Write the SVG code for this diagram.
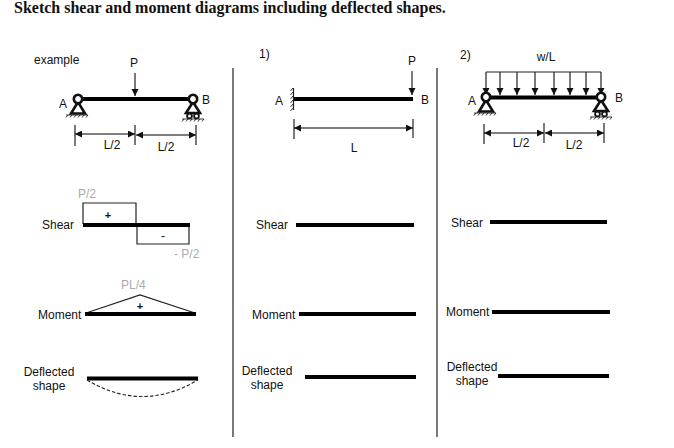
<svg xmlns="http://www.w3.org/2000/svg" width="674" height="448" viewBox="0 0 674 448">
<style>
text{font-family:"Liberation Sans",Arial,sans-serif;font-size:12px;fill:#111}
.c{text-anchor:middle}
.g{fill:#aaa}
.b{stroke:#000;stroke-width:4;fill:none}
.t{stroke:#222;stroke-width:1.2;fill:none}
.s{stroke:#111;stroke-width:2.600;fill:#fff}
.d{stroke:#555;stroke-width:1.300;fill:none}
.h{stroke:#222;stroke-width:.9;fill:none}
.v{stroke:#222;stroke-width:1.2;fill:none;marker-end:url(#ah)}
</style>
<defs>
<marker id="ah" markerUnits="userSpaceOnUse" markerWidth="8" markerHeight="8" refX="7" refY="3.500" orient="auto"><path d="M0 0L7 3.500L0 7z" fill="#111"/></marker>
<marker id="as" markerUnits="userSpaceOnUse" markerWidth="8" markerHeight="8" refX="0" refY="3.500" orient="auto"><path d="M7 0L0 3.500L7 7z" fill="#111"/></marker>
<g id="pin"><path class="s" d="M0 3L-7 14.500H7Z"/><circle class="s" r="4.200"/><path class="h" d="M-12 16H10M-12 18.500l2-2.500M-8 18.500l2-2.500M-4 18.500l2-2.500M0 18.500l2-2.500M4 18.500l2-2.500M8 18.500l2-2.500"/></g>
<g id="roller"><path class="s" d="M0 3L-7 14H7Z"/><circle class="s" r="4.200"/><circle cx="-3.500" cy="17" r="2.400" fill="#fff" stroke="#111" stroke-width="1.800"/><circle cx="3.500" cy="17" r="2.400" fill="#fff" stroke="#111" stroke-width="1.800"/><path class="h" d="M-11 20H11M-11 22.500l2-2.500M-7 22.500l2-2.500M-3 22.500l2-2.500M1 22.500l2-2.500M5 22.500l2-2.500M9 22.500l2-2.500"/></g>
</defs>
<text x="14" y="13" style="font-family:'Liberation Serif',serif;font-size:16px;font-weight:bold">Sketch shear and moment diagrams including deflected shapes.</text>
<g id="connectors">
<path class="t" d="M233 68V437M437 68V437"/>
<path class="v" d="M135 73V96"/>
<path class="d" d="M75 134H135" marker-start="url(#as)" marker-end="url(#ah)"/>
<path class="d" d="M136 135H196" marker-start="url(#as)" marker-end="url(#ah)"/>
<path class="t" d="M75 125V146M135 125V145M196 125V145"/>
<path class="v" d="M412 71V95"/>
<path class="d" d="M294 128H413" marker-start="url(#as)" marker-end="url(#ah)"/>
<path class="t" d="M294 119V139M413 119V138"/>
<path class="t" d="M486 72H601"/>
<path class="v" d="M486 72V95"/><path class="v" d="M500 72V95"/><path class="v" d="M517 72V95"/><path class="v" d="M535 72V95"/><path class="v" d="M554 72V95"/><path class="v" d="M570 72V95"/><path class="v" d="M586 72V95"/><path class="v" d="M601 72V95"/>
<path class="d" d="M484 133H544" marker-start="url(#as)" marker-end="url(#ah)"/>
<path class="d" d="M545 133H604" marker-start="url(#as)" marker-end="url(#ah)"/>
<path class="t" d="M484 124V144M544 123V143M604 123V143"/>
</g>
<g id="example-beam">
<text x="34" y="64">example</text><text class="c" x="134" y="67">P</text><text x="59" y="108">A</text><text x="202" y="104">B</text>
<path class="b" d="M78 99H193"/>
<use href="#pin" x="78" y="99"/><use href="#roller" x="193" y="99"/>
<text class="c" x="112" y="149">L/2</text><text class="c" x="166" y="151">L/2</text>
</g>
<g id="example-shear">
<text class="g" x="78" y="198">P/2</text><text x="42" y="229">Shear</text>
<path class="t" d="M83 224V203H136V224M137 226V244H189V226"/>
<path class="b" d="M83 225H190"/>
<text class="c" x="108" y="219" style="font-weight:bold;font-size:11px">+</text><text class="c" x="163" y="240">-</text>
<text class="g" x="174" y="258">- P/2</text>
</g>
<g id="example-moment">
<text class="g" x="121" y="289">PL/4</text><text x="38" y="319">Moment</text>
<path class="t" d="M86 313L140 295L195 313"/><path class="b" d="M85 314H196"/>
<text class="c" x="140" y="310" style="font-weight:bold;font-size:11px">+</text>
</g>
<g id="example-deflected">
<text class="c" x="49" y="376">Deflected</text><text class="c" x="49" y="390">shape</text>
<path class="b" d="M87 378.500H198"/>
<path d="M87 380Q142 413 198 380" fill="none" stroke="#222" stroke-width="1.100" stroke-dasharray="3.500 2"/>
</g>
<g id="beam-1">
<text x="259" y="58">1)</text><text class="c" x="412" y="65">P</text><text x="275" y="105">A</text><text x="421" y="104">B</text>
<path class="h" d="M293 88l-2.500 3M293 92l-2.500 3M293 96l-2.500 3M293 100l-2.500 3M293 104l-2.500 3M293 108l-2.500 3"/><path class="t" d="M293.500 88V110"/>
<path class="b" d="M294 99H413"/>
<text class="c" x="354" y="152">L</text>
</g>
<g id="shear-1"><text x="256" y="229">Shear</text><path class="b" d="M296 225H414"/></g>
<g id="moment-1"><text x="252" y="319">Moment</text><path class="b" d="M299 314H416"/></g>
<g id="deflected-1"><text class="c" x="267" y="375">Deflected</text><text class="c" x="267" y="389">shape</text><path class="b" d="M305 377H416"/></g>
<g id="beam-2">
<text x="460" y="59">2)</text><text class="c" x="546" y="61">w/L</text><text x="468" y="105">A</text><text x="615" y="102">B</text>
<path class="b" d="M486 97.500H601"/>
<use href="#pin" x="486" y="97"/><use href="#roller" x="601" y="97"/>
<text class="c" x="521" y="147">L/2</text><text class="c" x="574" y="149">L/2</text>
</g>
<g id="shear-2"><text x="451" y="227">Shear</text><path class="b" d="M490 222H607"/></g>
<g id="moment-2"><text x="446" y="316">Moment</text><path class="b" d="M492 312H610"/></g>
<g id="deflected-2"><text class="c" x="472" y="371">Deflected</text><text class="c" x="472" y="385">shape</text><path class="b" d="M498 376H609"/></g>
</svg>
